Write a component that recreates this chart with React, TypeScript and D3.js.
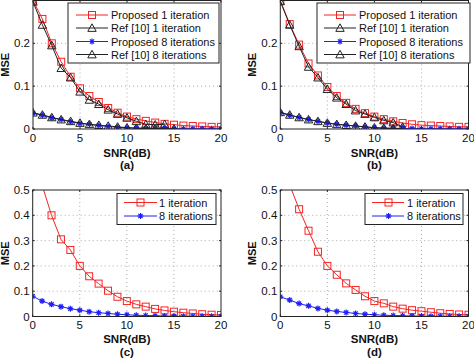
import React from "react";
import * as d3 from "d3";

const snr = d3.range(0, 21);

// Panel (a)
const aProp1 = [0.3, 0.257, 0.2, 0.157, 0.122, 0.095, 0.077, 0.063, 0.049, 0.038, 0.029, 0.023, 0.019, 0.015, 0.012, 0.01, 0.008, 0.007, 0.006, 0.005, 0.005];
const aRef1 = [0.297, 0.243, 0.195, 0.142, 0.12, 0.087, 0.068, 0.058, 0.045, 0.035, 0.026, 0.018, 0.011, 0.01, 0.011];
const aProp8 = [0.037, 0.032, 0.026, 0.022, 0.017, 0.013, 0.011, 0.008, 0.006, 0.004, 0.003, 0.002, 0.0015, 0.001, 0.001, 0.0008, 0.0006, 0.0005, 0.0004, 0.0003, 0.0003];
const aRef8 = [0.038, 0.033, 0.027, 0.022, 0.018, 0.014, 0.011, 0.009, 0.007, 0.005, 0.003, 0.002, 0.001, 0.001, 0.0005, 0.0003];

// Panel (b)
const bProp1 = [0.3, 0.245, 0.197, 0.153, 0.125, 0.098, 0.077, 0.061, 0.047, 0.037, 0.029, 0.023, 0.018, 0.014, 0.011, 0.009, 0.008, 0.007, 0.006, 0.005, 0.005];
const bRef1 = [0.298, 0.243, 0.193, 0.145, 0.12, 0.093, 0.073, 0.058, 0.043, 0.035, 0.027, 0.02, 0.015, 0.005];
const bProp8 = [0.038, 0.032, 0.027, 0.022, 0.018, 0.014, 0.011, 0.009, 0.007, 0.005, 0.003, 0.002, 0.002, 0.001, 0.001, 0.0008, 0.0006, 0.0005, 0.0004, 0.0003, 0.0003];
const bRef8 = [0.039, 0.033, 0.027, 0.022, 0.018, 0.014, 0.011, 0.009, 0.007, 0.005, 0.003, 0.002, 0.001, 0.0005];

// Panel (c)
const c1 = [0.65, 0.52, 0.4, 0.305, 0.263, 0.2, 0.159, 0.13, 0.102, 0.078, 0.061, 0.048, 0.039, 0.03, 0.024, 0.019, 0.015, 0.012, 0.009, 0.007, 0.006];
const c8 = [0.08, 0.061, 0.048, 0.039, 0.031, 0.025, 0.019, 0.015, 0.012, 0.009, 0.007, 0.005, 0.004, 0.003, 0.002, 0.0015, 0.001, 0.001, 0.001, 0.0005, 0.0005];

// Panel (d)
const d1 = [0.63, 0.52, 0.424, 0.339, 0.256, 0.2, 0.165, 0.131, 0.105, 0.08, 0.061, 0.052, 0.039, 0.031, 0.025, 0.021, 0.017, 0.013, 0.01, 0.008, 0.007];
const d8 = [0.078, 0.065, 0.051, 0.042, 0.032, 0.025, 0.02, 0.016, 0.012, 0.009, 0.007, 0.005, 0.004, 0.003, 0.002, 0.0015, 0.001, 0.001, 0.0008, 0.0005, 0.0005];

const xTicks = [0, 5, 10, 15, 20];
const yTicksTop = [0, 0.1, 0.2];
const yTicksBot = [0, 0.1, 0.2, 0.3, 0.4, 0.5];
const labelsTop = ["Proposed 1 iteration", "Ref [10] 1 iteration", "Proposed 8 iterations", "Ref [10] 8 iterations"];
const labelsBot = ["1 iteration", "8 iterations"];
const panelTags = ["(a)", "(b)", "(c)", "(d)"];

const RED = "#f42424";
const BLUE = "#2020f8";
const BLACK = "#222";
const FONT = "'Liberation Sans', Arial, Helvetica, sans-serif";

type Marker = "square" | "triangle" | "star";
interface Series { values: number[]; color: string; marker: Marker; label: string; }
interface Panel {
  x0: number; x1: number; y0: number; y1: number; yMax: number; yTicks: number[];
  series: Series[]; tag: string;
  legend: { x: number; y: number; w: number; h: number; rows: number[]; lx0: number; lx1: number; mx: number; tx: number };
  tickLabelY: number; xLabelY: number; tagY: number; mseX: number;
}

function MarkerShape({ type, x, y, color }: { type: Marker; x: number; y: number; color: string }) {
  if (type === "square") {
    return <rect x={x - 3.5} y={y - 3.5} width={7} height={7} fill="none" stroke={color} strokeWidth={1} />;
  }
  if (type === "triangle") {
    const s = 4.2;
    return <path d={`M${x},${y - s} L${x + s},${y + s * 0.8} L${x - s},${y + s * 0.8} Z`} fill="none" stroke={color} strokeWidth={1} />;
  }
  const r = 3;
  const k = r * 0.7;
  return (
    <path
      d={`M${x - r},${y}L${x + r},${y}M${x},${y - r}L${x},${y + r}M${x - k},${y - k}L${x + k},${y + k}M${x - k},${y + k}L${x + k},${y - k}`}
      stroke={color}
      strokeWidth={1.2}
      fill="none"
    />
  );
}

function PanelView({ p, idx }: { p: Panel; idx: number }) {
  const xs = d3.scaleLinear().domain([0, 20]).range([p.x0, p.x1]);
  const ys = d3.scaleLinear().domain([0, p.yMax]).range([p.y1, p.y0]);
  const line = d3.line<number>().x((_, i) => xs(snr[i])).y((v) => ys(v));
  const clipId = `clip${idx}`;
  const yFmt = (v: number) => (v === 0 ? "0" : d3.format(".1f")(v));
  return (
    <g>
      <defs>
        <clipPath id={clipId}>
          <rect x={p.x0} y={p.y0} width={p.x1 - p.x0} height={p.y1 - p.y0} />
        </clipPath>
      </defs>
      <rect x={p.x0} y={p.y0} width={p.x1 - p.x0} height={p.y1 - p.y0} fill="#fff" />
      {xTicks.slice(1, -1).map((t) => (
        <line key={`gx${t}`} x1={xs(t)} x2={xs(t)} y1={p.y0} y2={p.y1} stroke="#999" strokeDasharray="1,3" strokeWidth={0.8} />
      ))}
      {p.yTicks.filter((t) => t > 0 && t < p.yMax).map((t) => (
        <line key={`gy${t}`} x1={p.x0} x2={p.x1} y1={ys(t)} y2={ys(t)} stroke="#999" strokeDasharray="1,3" strokeWidth={0.8} />
      ))}
      <g clipPath={`url(#${clipId})`}>
        {p.series.map((s, si) => (
          <g key={si}>
            <path d={line(s.values) || ""} fill="none" stroke={s.color} strokeWidth={1} />
            {s.values.map((v, i) => (
              <MarkerShape key={i} type={s.marker} x={xs(snr[i])} y={ys(v)} color={s.color} />
            ))}
          </g>
        ))}
      </g>
      <rect x={p.x0} y={p.y0} width={p.x1 - p.x0} height={p.y1 - p.y0} fill="none" stroke={BLACK} strokeWidth={1} />
      {xTicks.map((t) => (
        <g key={`tx${t}`}>
          <line x1={xs(t)} x2={xs(t)} y1={p.y1} y2={p.y1 - 2} stroke={BLACK} />
          <line x1={xs(t)} x2={xs(t)} y1={p.y0} y2={p.y0 + 2} stroke={BLACK} />
          <text x={xs(t)} y={p.tickLabelY} textAnchor="middle" dominantBaseline="central" fontSize={11.5} fontFamily={FONT} fill="#111">
            {t}
          </text>
        </g>
      ))}
      {p.yTicks.map((t) => (
        <g key={`ty${t}`}>
          <line x1={p.x0} x2={p.x0 + 2} y1={ys(t)} y2={ys(t)} stroke={BLACK} />
          <line x1={p.x1} x2={p.x1 - 2} y1={ys(t)} y2={ys(t)} stroke={BLACK} />
          <text x={p.x0 - 3} y={ys(t)} textAnchor="end" dominantBaseline="central" fontSize={11.5} fontFamily={FONT} fill="#111">
            {yFmt(t)}
          </text>
        </g>
      ))}
      <text x={(p.x0 + p.x1) / 2} y={p.xLabelY} textAnchor="middle" dominantBaseline="central" fontSize={11.5} fontWeight="bold" fontFamily={FONT} fill="#111">
        SNR(dB)
      </text>
      <text x={(p.x0 + p.x1) / 2} y={p.tagY} textAnchor="middle" dominantBaseline="central" fontSize={11.5} fontWeight="bold" fontFamily={FONT} fill="#111">
        {p.tag}
      </text>
      <text
        transform={`translate(${p.mseX},${(p.y0 + p.y1) / 2}) rotate(-90)`}
        textAnchor="middle"
        dominantBaseline="central"
        fontSize={11}
        fontWeight="bold"
        fontFamily={FONT}
        fill="#111"
      >
        MSE
      </text>
      <rect x={p.legend.x} y={p.legend.y} width={p.legend.w} height={p.legend.h} fill="#fff" stroke={BLACK} strokeWidth={1} />
      {p.series.map((s, si) => {
        const ry = p.legend.rows[si];
        return (
          <g key={`lg${si}`}>
            <line x1={p.legend.lx0} x2={p.legend.lx1} y1={ry} y2={ry} stroke={s.color} strokeWidth={1} />
            <MarkerShape type={s.marker} x={p.legend.mx} y={ry} color={s.color} />
            <text x={p.legend.tx} y={ry} dominantBaseline="central" fontSize={11} fontFamily={FONT} fill="#111">
              {s.label}
            </text>
          </g>
        );
      })}
    </g>
  );
}

const topSeries = (p1: number[], r1: number[], p8: number[], r8: number[]): Series[] => [
  { values: p1, color: RED, marker: "square", label: labelsTop[0] },
  { values: r1, color: BLACK, marker: "triangle", label: labelsTop[1] },
  { values: p8, color: BLUE, marker: "star", label: labelsTop[2] },
  { values: r8, color: BLACK, marker: "triangle", label: labelsTop[3] },
];
const botSeries = (s1: number[], s8: number[]): Series[] => [
  { values: s1, color: RED, marker: "square", label: labelsBot[0] },
  { values: s8, color: BLUE, marker: "star", label: labelsBot[1] },
];

const panels: Panel[] = [
  {
    x0: 33, x1: 221, y0: 0.5, y1: 129, yMax: 0.3, yTicks: yTicksTop, series: topSeries(aProp1, aRef1, aProp8, aRef8), tag: panelTags[0],
    legend: { x: 68, y: 3, w: 151, h: 60, rows: [15, 28, 41.5, 54.5], lx0: 76, lx1: 108, mx: 92, tx: 111 },
    tickLabelY: 138, xLabelY: 152.5, tagY: 164.5, mseX: 5,
  },
  {
    x0: 280.3, x1: 468.5, y0: 0.5, y1: 129, yMax: 0.3, yTicks: yTicksTop, series: topSeries(bProp1, bRef1, bProp8, bRef8), tag: panelTags[1],
    legend: { x: 317, y: 3, w: 153, h: 60, rows: [15, 28, 41.5, 54.5], lx0: 324, lx1: 356, mx: 340, tx: 359 },
    tickLabelY: 138, xLabelY: 152.5, tagY: 164.5, mseX: 252,
  },
  {
    x0: 32.7, x1: 221, y0: 190, y1: 316.5, yMax: 0.5, yTicks: yTicksBot, series: botSeries(c1, c8), tag: panelTags[2],
    legend: { x: 117, y: 193.5, w: 99, h: 31, rows: [202.5, 216], lx0: 124, lx1: 157, mx: 140.5, tx: 159 },
    tickLabelY: 325, xLabelY: 339, tagY: 351.5, mseX: 5,
  },
  {
    x0: 280.3, x1: 468.5, y0: 190, y1: 316.5, yMax: 0.5, yTicks: yTicksBot, series: botSeries(d1, d8), tag: panelTags[3],
    legend: { x: 365, y: 193.5, w: 98, h: 31, rows: [202.5, 216], lx0: 372, lx1: 404, mx: 388.5, tx: 407 },
    tickLabelY: 325, xLabelY: 339, tagY: 351.5, mseX: 252,
  },
];

export default function App() {
  return (
    <svg
      width={474}
      height={358}
      style={{ position: "absolute", left: 0, top: 0, background: "#fff" }}
      xmlns="http://www.w3.org/2000/svg"
    >
      <rect width={474} height={358} fill="#fff" />
      {panels.map((p, i) => (
        <PanelView key={i} p={p} idx={i} />
      ))}
    </svg>
  );
}
